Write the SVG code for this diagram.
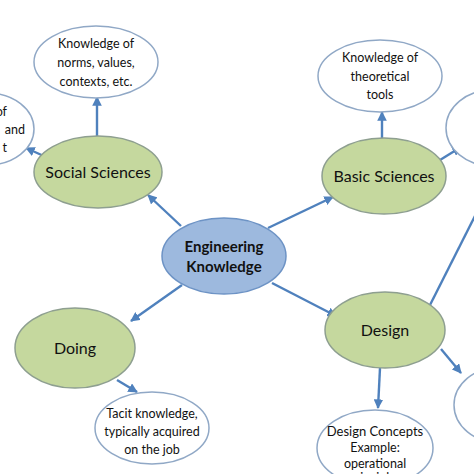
<svg xmlns="http://www.w3.org/2000/svg" width="474" height="474" viewBox="0 0 474 474">
<defs>
<marker id="ah" viewBox="0 0 10 10" refX="9" refY="5" markerWidth="4" markerHeight="4" orient="auto-start-reverse" markerUnits="strokeWidth">
<path d="M0,0 L10,5 L0,10 z" fill="#4F81BD"/>
</marker>
<style>
.g{fill:#C5D89E;stroke:#8E9F90;stroke-width:1.5}
.w{fill:#FFFFFF;stroke:#90A8C6;stroke-width:1.5}
.c{fill:#9DB9DE;stroke:#6D93C5;stroke-width:1.5}
.t{font-family:Lato,"Open Sans",sans-serif;fill:#111;text-anchor:middle}
.big{font-size:16px}
.sm{font-size:12.5px}
.ln{stroke:#4F81BD;stroke-width:2.4;fill:none}
</style>
</defs>
<rect width="474" height="474" fill="#FFFFFF"/>
<g id="connectors">
<line class="ln" x1="181" y1="226" x2="148" y2="195" marker-end="url(#ah)"/>
<line class="ln" x1="268" y1="228" x2="333" y2="197" marker-end="url(#ah)"/>
<line class="ln" x1="182" y1="285" x2="131" y2="321" marker-end="url(#ah)"/>
<line class="ln" x1="272" y1="283" x2="336" y2="316" marker-end="url(#ah)"/>
<line class="ln" x1="97" y1="136" x2="97" y2="97" marker-end="url(#ah)"/>
<line class="ln" x1="46" y1="157" x2="26" y2="148" marker-end="url(#ah)"/>
<line class="ln" x1="382" y1="138" x2="382" y2="112" marker-end="url(#ah)"/>
<line class="ln" x1="440" y1="160" x2="461" y2="147" marker-end="url(#ah)"/>
<line class="ln" x1="117" y1="380" x2="137" y2="392" marker-end="url(#ah)"/>
<line class="ln" x1="380" y1="368" x2="378" y2="408" marker-end="url(#ah)"/>
<line class="ln" x1="441" y1="349" x2="461" y2="373" marker-end="url(#ah)"/>
<line class="ln" x1="430" y1="305" x2="476" y2="214"/>
</g>
<g id="left-partial">
<ellipse class="w" cx="-12" cy="129" rx="46" ry="36"/>
<text class="t sm" x="7" y="116" style="text-anchor:end">of</text>
<text class="t sm" x="25" y="134" style="text-anchor:end">and</text>
<text class="t sm" x="7" y="152" style="text-anchor:end">t</text>
</g>
<g id="right-top-partial">
<ellipse class="w" cx="492" cy="128" rx="46" ry="38"/>
</g>
<g id="right-bottom-partial">
<ellipse class="w" cx="500" cy="405" rx="46" ry="38"/>
</g>
<g id="norms">
<ellipse class="w" cx="96" cy="62" rx="62" ry="36"/>
<text class="t sm" x="96" y="48">Knowledge of</text>
<text class="t sm" x="96" y="67">norms, values,</text>
<text class="t sm" x="96" y="86">contexts, etc.</text>
</g>
<g id="tools">
<ellipse class="w" cx="380" cy="76" rx="62" ry="36"/>
<text class="t sm" x="380" y="62">Knowledge of</text>
<text class="t sm" x="380" y="81">theoretical</text>
<text class="t sm" x="380" y="99">tools</text>
</g>
<g id="social">
<ellipse class="g" cx="98" cy="172" rx="64" ry="36"/>
<text class="t big" x="98" y="178">Social Sciences</text>
</g>
<g id="basic">
<ellipse class="g" cx="384" cy="176" rx="62" ry="38"/>
<text class="t big" x="384" y="182">Basic Sciences</text>
</g>
<g id="engineering">
<ellipse class="c" cx="224" cy="256" rx="62" ry="38"/>
<text class="t" x="224" y="252" style="font-size:15px;font-weight:bold">Engineering</text>
<text class="t" x="224" y="272" style="font-size:15px;font-weight:bold">Knowledge</text>
</g>
<g id="doing">
<ellipse class="g" cx="75" cy="348" rx="60" ry="40"/>
<text class="t big" x="75" y="354">Doing</text>
</g>
<g id="design">
<ellipse class="g" cx="385" cy="330" rx="60" ry="38"/>
<text class="t big" x="385" y="336">Design</text>
</g>
<g id="tacit">
<ellipse class="w" cx="152" cy="428" rx="57" ry="36"/>
<text class="t sm" x="152" y="418">Tacit knowledge,</text>
<text class="t sm" x="152" y="436">typically acquired</text>
<text class="t sm" x="152" y="454">on the job</text>
</g>
<g id="concepts">
<ellipse class="w" cx="375" cy="448" rx="58" ry="38"/>
<text class="t" x="375" y="436" style="font-size:13px">Design Concepts</text>
<text class="t sm" x="375" y="452">Example:</text>
<text class="t sm" x="375" y="468">operational</text>
<text class="t sm" x="375" y="482">principles</text>
</g>
</svg>
